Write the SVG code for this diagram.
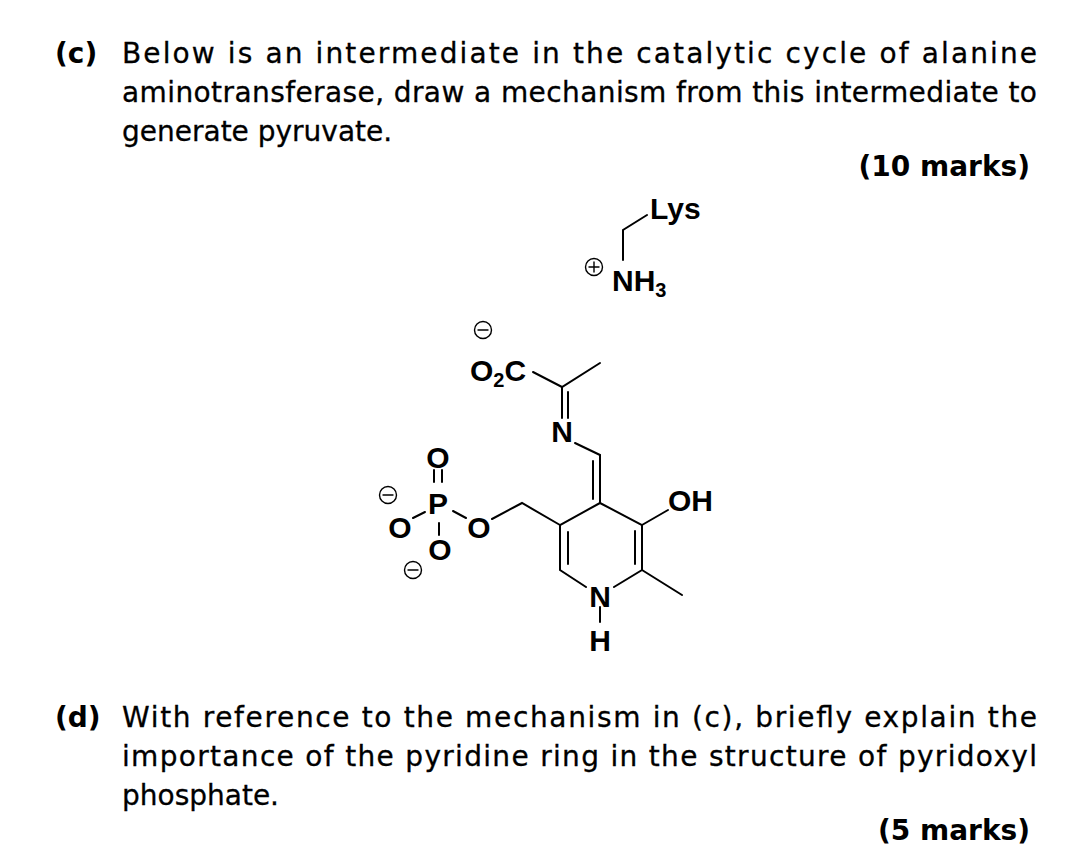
<svg xmlns="http://www.w3.org/2000/svg" width="1068" height="866" viewBox="0 0 1068 866">
<style>
.t{font-family:"DejaVu Sans","Liberation Sans",sans-serif;font-size:28px;fill:#000;stroke:#000;stroke-width:0.3}
.b{font-weight:bold;stroke-width:0}
.a{font-family:"Liberation Sans",Arial,sans-serif;font-weight:bold;font-size:30px;fill:#000}
.s{font-size:20px}
.bd{stroke:#000;stroke-width:2;fill:none;stroke-linecap:round}
.c{stroke:#000;stroke-width:1.4;fill:#fff}
</style>
<rect width="1068" height="866" fill="#fff"/>
<g id="text">
<text class="t b" x="55" y="63">(c)</text>
<text class="t" x="122" y="63" textLength="915" lengthAdjust="spacing">Below is an intermediate in the catalytic cycle of alanine</text>
<text class="t" x="122" y="102" textLength="915" lengthAdjust="spacing">aminotransferase, draw a mechanism from this intermediate to</text>
<text class="t" x="122" y="141">generate pyruvate.</text>
<text class="t b" x="1030" y="176" text-anchor="end">(10 marks)</text>
<text class="t b" x="55" y="727">(d)</text>
<text class="t" x="122" y="727" textLength="915" lengthAdjust="spacing">With reference to the mechanism in (c), briefly explain the</text>
<text class="t" x="122" y="766" textLength="915" lengthAdjust="spacing">importance of the pyridine ring in the structure of pyridoxyl</text>
<text class="t" x="122" y="805">phosphate.</text>
<text class="t b" x="1030" y="840" text-anchor="end">(5 marks)</text>
</g>
<g id="connectors">
<path class="bd" d="M647 215 L623 230 L623 260"/>
<path class="bd" d="M533 372 L562 387 L600 363"/>
<path class="bd" d="M562 387 L562 418 M568 392 L568 418"/>
<path class="bd" d="M575 443 L600 455 L600 503 M593 461 L593 499"/>
<path class="bd" d="M600 503 L642 525 L642 570 L614 587 M586 587 L560 570 L560 525 L600 503"/>
<path class="bd" d="M568 532 L568 564 M635 531 L635 564"/>
<path class="bd" d="M642 525 L668 510 M642 570 L682 595"/>
<path class="bd" d="M600 607 L600 622"/>
<path class="bd" d="M560 525 L522 503 L492 519"/>
<path class="bd" d="M453 511 L466 518 M413 518 L425 512"/>
<path class="bd" d="M434 470 L434 482 M442 470 L442 482 M439 523 L439 535"/>
</g>
<g id="lys"><text class="a" x="650" y="219">Lys</text></g>
<g id="nh3"><text class="a" x="612" y="291">NH<tspan class="s" dy="6">3</tspan></text>
<circle class="c" cx="594" cy="267" r="8.5"/><path class="bd" style="stroke-width:1.4" d="M589 267 H599 M594 262 V272"/></g>
<g id="co2"><text class="a" x="470" y="381">O<tspan class="s" dy="6">2</tspan><tspan dy="-6">C</tspan></text>
<circle class="c" cx="483" cy="330" r="8.5"/><path class="bd" style="stroke-width:1.4" d="M478 330 H488"/></g>
<g id="n-imine"><text class="a" x="562" y="442" text-anchor="middle">N</text></g>
<g id="oh"><text class="a" x="668" y="511">OH</text></g>
<g id="nh"><text class="a" x="600" y="607" text-anchor="middle">N</text><text class="a" x="600" y="651" text-anchor="middle">H</text></g>
<g id="phosphate">
<text class="a" x="438" y="468" text-anchor="middle">O</text>
<text class="a" x="438" y="514" text-anchor="middle">P</text>
<text class="a" x="479" y="538" text-anchor="middle">O</text>
<text class="a" x="400" y="538" text-anchor="middle">O</text>
<text class="a" x="440" y="560" text-anchor="middle">O</text>
<circle class="c" cx="388" cy="495" r="8.5"/><path class="bd" style="stroke-width:1.4" d="M383 495 H393"/>
<circle class="c" cx="413" cy="570" r="8.5"/><path class="bd" style="stroke-width:1.4" d="M408 570 H418"/>
</g>
</svg>
